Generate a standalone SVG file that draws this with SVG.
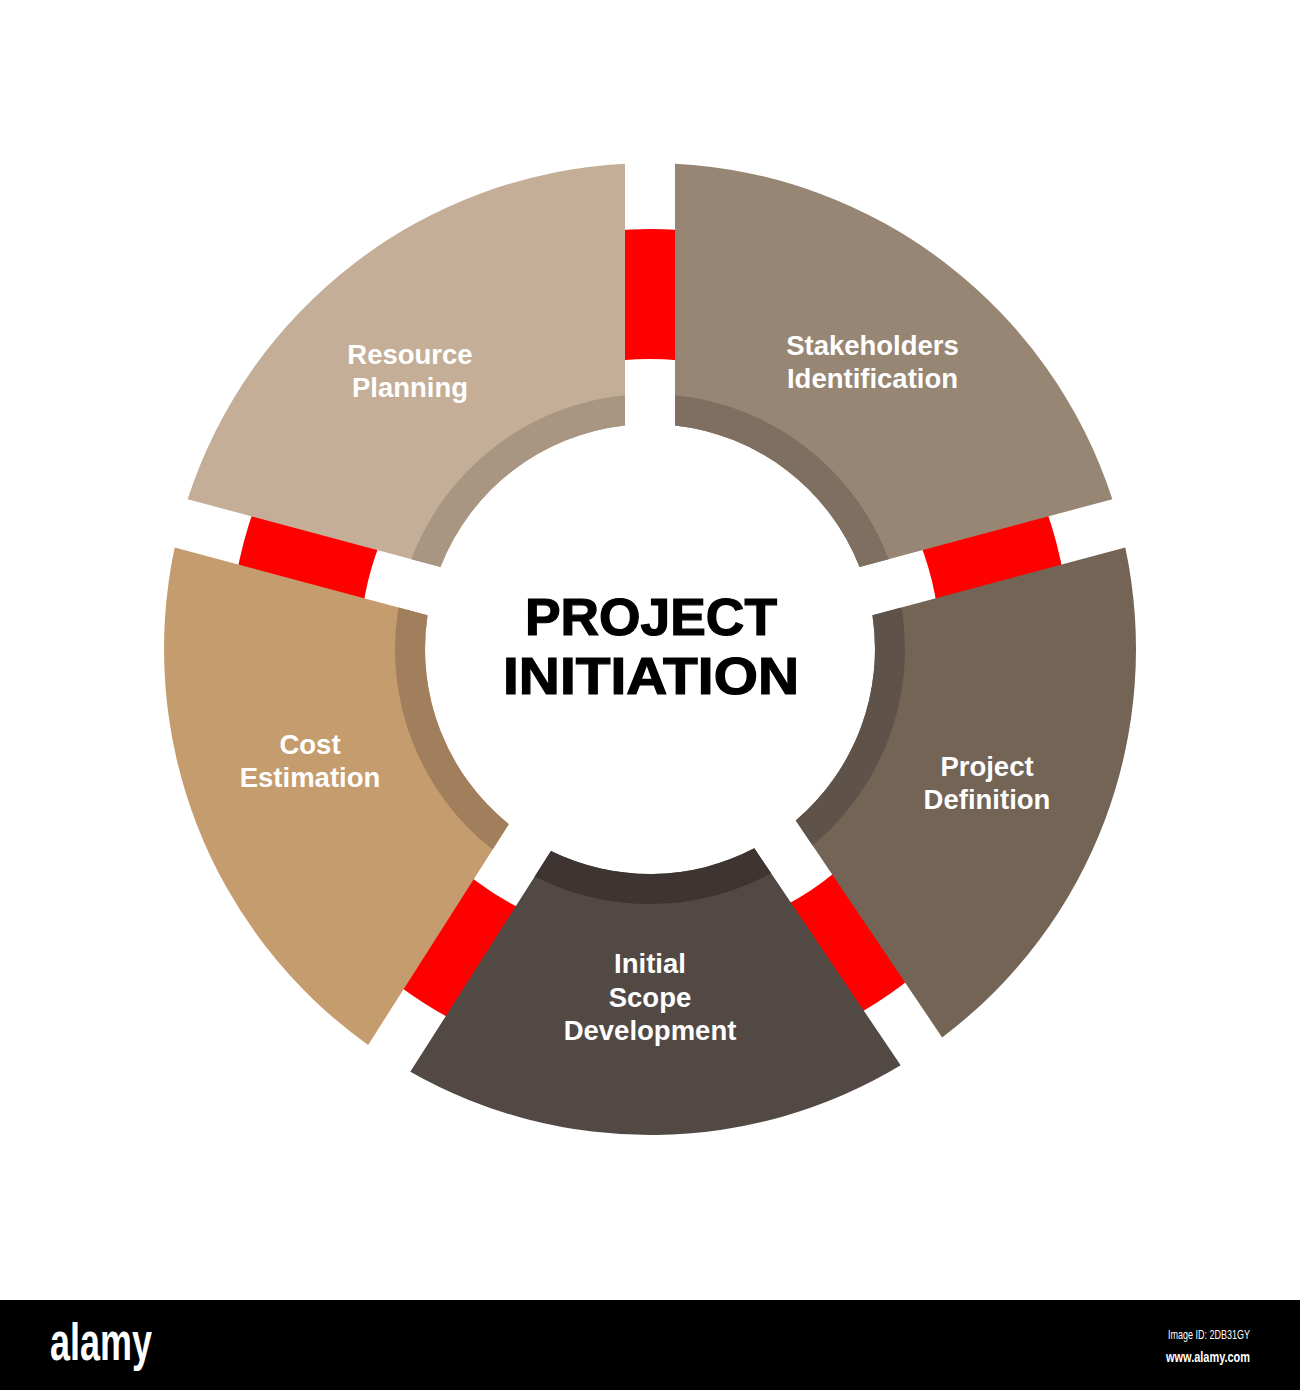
<svg xmlns="http://www.w3.org/2000/svg" width="1300" height="1390" viewBox="0 0 1300 1390">
<style>
.lbl{font-family:"Liberation Sans",Arial,sans-serif;font-weight:bold;font-size:27.5px;fill:#ffffff;text-anchor:middle}
.title{font-family:"Liberation Sans",Arial,sans-serif;font-weight:bold;font-size:51px;fill:#000000;stroke:#000000;stroke-width:1.2px;text-anchor:middle}
.foot{font-family:"Liberation Sans",Arial,sans-serif;fill:#ffffff}
</style>
<rect x="0" y="0" width="1300" height="1390" fill="#ffffff"/>
<g id="connectors">
<circle cx="650" cy="649" r="355" fill="none" stroke="#ff0000" stroke-width="130"/>
</g>
<g id="stakeholders">
<path d="M675,425.393 L675,163.643 A486,486 0 0 1 1112.349,499.232 L859.518,566.978 A225,225 0 0 0 675,425.393 Z" fill="#988674"/>
<path d="M675,425.393 L675,395.228 A255,255 0 0 1 888.655,559.171 L859.518,566.978 A225,225 0 0 0 675,425.393 Z" fill="#7e6f61"/>
<text class="lbl" x="872.5" y="355">Stakeholders</text>
<text class="lbl" x="872.5" y="388">Identification</text>
</g>
<g id="project-definition">
<path d="M872.458,615.274 L1125.289,547.528 A486,486 0 0 1 942.134,1037.399 L795.766,820.399 A225,225 0 0 0 872.458,615.274 Z" fill="#736455"/>
<path d="M872.458,615.274 L901.595,607.467 A255,255 0 0 1 812.633,845.407 L795.766,820.399 A225,225 0 0 0 872.458,615.274 Z" fill="#5e5249"/>
<text class="lbl" x="987" y="776">Project</text>
<text class="lbl" x="987" y="809">Definition</text>
</g>
<g id="initial-scope">
<path d="M754.314,848.359 L900.682,1065.359 A486,486 0 0 1 410.303,1071.779 L550.941,851.021 A225,225 0 0 0 754.314,848.359 Z" fill="#524945"/>
<path d="M754.314,848.359 L771.181,873.367 A255,255 0 0 1 534.733,876.462 L550.941,851.021 A225,225 0 0 0 754.314,848.359 Z" fill="#3e3532"/>
<text class="lbl" x="650" y="973">Initial</text>
<text class="lbl" x="650" y="1006.5">Scope</text>
<text class="lbl" x="650" y="1040">Development</text>
</g>
<g id="cost-estimation">
<path d="M508.771,824.155 L368.133,1044.913 A486,486 0 0 1 174.711,547.528 L427.542,615.274 A225,225 0 0 0 508.771,824.155 Z" fill="#c59c6d"/>
<path d="M508.771,824.155 L492.563,849.596 A255,255 0 0 1 398.405,607.467 L427.542,615.274 A225,225 0 0 0 508.771,824.155 Z" fill="#a17e5c"/>
<text class="lbl" x="310" y="754">Cost</text>
<text class="lbl" x="310" y="787">Estimation</text>
</g>
<g id="resource-planning">
<path d="M440.482,566.978 L187.651,499.232 A486,486 0 0 1 625,163.643 L625,425.393 A225,225 0 0 0 440.482,566.978 Z" fill="#c5ae97"/>
<path d="M440.482,566.978 L411.345,559.171 A255,255 0 0 1 625,395.228 L625,425.393 A225,225 0 0 0 440.482,566.978 Z" fill="#a99682"/>
<text class="lbl" x="410" y="364">Resource</text>
<text class="lbl" x="410" y="397">Planning</text>
</g>
<g id="center">
<text class="title" x="651" y="635" textLength="252" lengthAdjust="spacingAndGlyphs">PROJECT</text>
<text class="title" x="651" y="693.5" textLength="296" lengthAdjust="spacingAndGlyphs">INITIATION</text>
</g>
<g id="footer">
<rect x="0" y="1300" width="1300" height="90" fill="#000000"/>
<text class="foot" x="50" y="1360" font-size="51" font-weight="bold" textLength="102" lengthAdjust="spacingAndGlyphs">alamy</text>
<text class="foot" x="1250" y="1339" font-size="13" text-anchor="end" textLength="82" lengthAdjust="spacingAndGlyphs">Image ID: 2DB31GY</text>
<text class="foot" x="1250" y="1362" font-size="15" font-weight="bold" text-anchor="end" textLength="84" lengthAdjust="spacingAndGlyphs">www.alamy.com</text>
</g>
</svg>
